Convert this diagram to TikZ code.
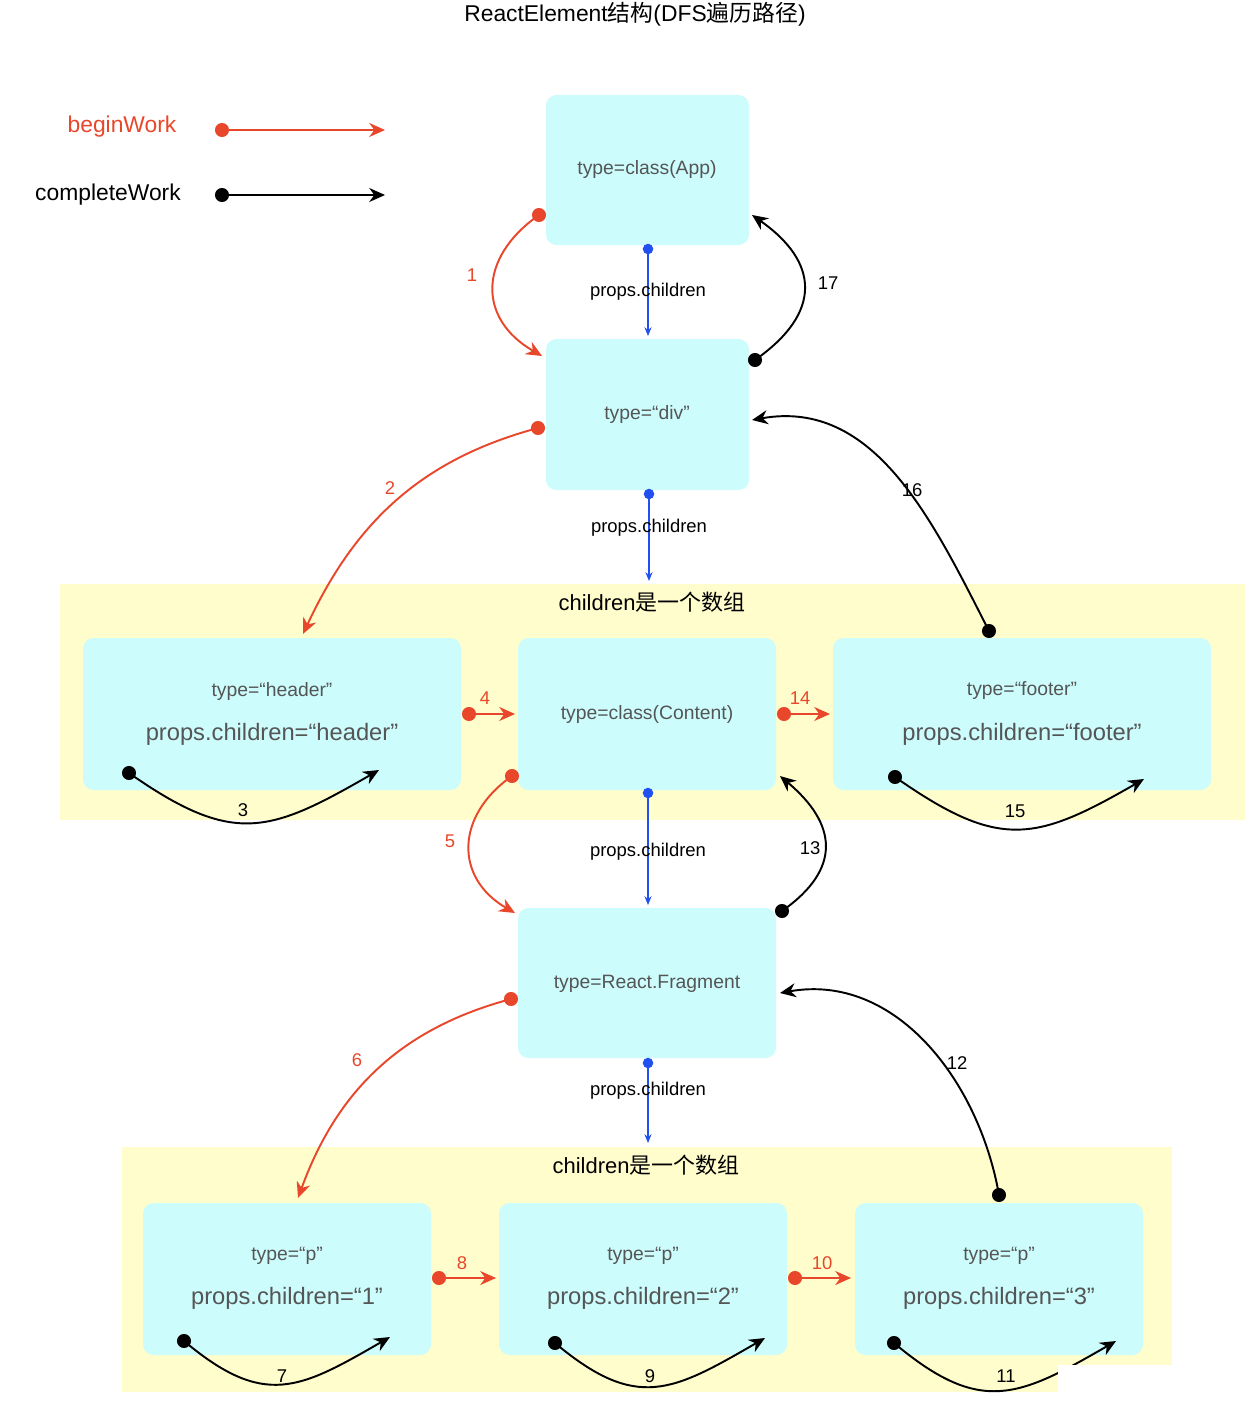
\documentclass[tikz,border=0pt]{standalone}
\usepackage{fontspec}
\setmainfont{Liberation Sans}
\newfontfamily\cjk{Noto Sans CJK SC}
\usetikzlibrary{arrows.meta}
\definecolor{rd}{HTML}{E8472B}
\definecolor{cy}{HTML}{CCFCFC}
\definecolor{yl}{HTML}{FFFDCC}
\definecolor{bl}{HTML}{2050F0}
\definecolor{tg}{HTML}{555555}
\begin{document}
\begin{tikzpicture}[x=0.02cm,y=-0.02cm,
 box/.style={fill=cy,rounded corners=6pt,draw=none},
 band/.style={fill=yl,draw=none},
 tl/.style={text=tg,font=\fontsize{11}{13}\selectfont},
 pl/.style={text=tg,font=\fontsize{13.5}{16}\selectfont},
 beg/.style={draw=rd,line width=1.1pt,-{Stealth[length=9pt,width=8pt]}},
 cmp/.style={draw=black,line width=1.1pt,-{Stealth[length=9pt,width=8pt]}},
 bdot/.style={circle,fill=rd,inner sep=0pt,minimum size=8pt},
 kdot/.style={circle,fill=black,inner sep=0pt,minimum size=8pt},
 lab/.style={font=\fontsize{10.5}{12}\selectfont},
 pc/.style={font=\fontsize{10.5}{12}\selectfont},
 ch/.style={draw=bl,line width=0.6pt,-{Stealth[length=5pt,width=4pt]}},
]
\useasboundingbox (0,0) rectangle (1250,1406);
\fill[white] (0,0) rectangle (1250,1406);
\node[font=\fontsize{13}{15}\selectfont] (title) at (635,14) {ReactElement{\cjk 结构}(DFS{\cjk 遍历路径})};
% legend
\node[text=rd,font=\fontsize{13}{15}\selectfont] (lb) at (122,127) {beginWork};
\node[font=\fontsize{13}{15}\selectfont] (lc) at (108,195) {completeWork};
\node[bdot] (lb1) at (222,130) {}; \coordinate (lb2) at (385,130);
\node[kdot] (lc1) at (222,195) {}; \coordinate (lc2) at (385,195);
\draw[beg] (lb1.center) -- (lb2);
\draw[cmp] (lc1.center) -- (lc2);
% bands
\fill[band] (60,584) rectangle (1245,820);
\fill[band] (122,1147) rectangle (1172,1392);
\node[font=\fontsize{12.5}{15}\selectfont] (b1) at (652,602) {children{\cjk 是一个数组}};
\node[font=\fontsize{12.5}{15}\selectfont] (b2) at (646,1165) {children{\cjk 是一个数组}};
% boxes
\fill[box] (546,95) rectangle (749,245);
\node[tl] (app) at (647,170) {type=class(App)};
\fill[box] (546,339) rectangle (749,490);
\node[tl] (div) at (647,414) {type=“div”};
\fill[box] (83,638) rectangle (461,790);
\node[tl] (h1) at (272,691) {type=“header”};
\node[pl] (h2) at (272,734) {props.children=“header”};
\fill[box] (518,638) rectangle (776,790);
\node[tl] (cont) at (647,714) {type=class(Content)};
\fill[box] (833,638) rectangle (1211,790);
\node[tl] (f1) at (1022,691) {type=“footer”};
\node[pl] (f2) at (1022,734) {props.children=“footer”};
\fill[box] (518,908) rectangle (776,1058);
\node[tl] (frag) at (647,984) {type=React.Fragment};
\fill[box] (143,1203) rectangle (431,1355);
\node[tl] (p1a) at (287,1256) {type=“p”};
\node[pl] (p1b) at (287,1298) {props.children=“1”};
\fill[box] (499,1203) rectangle (787,1355);
\node[tl] (p2a) at (643,1256) {type=“p”};
\node[pl] (p2b) at (643,1298) {props.children=“2”};
\fill[box] (855,1203) rectangle (1143,1355);
\node[tl] (p3a) at (999,1256) {type=“p”};
\node[pl] (p3b) at (999,1298) {props.children=“3”};
% props.children arrows
\foreach \n/\x/\ya/\yb/\yl in {c1/648/249/336/292, c2/649/494/581/528, c3/648/793/905/852, c4/648/1063/1143/1091}{
 \fill[bl] (\x,\ya) circle (3pt);
 \coordinate (\n a) at (\x,\ya); \coordinate (\n b) at (\x,\yb);
 \draw[ch] (\n a) -- (\n b);
 \node[pc] (\n l) at (\x,\yl) {props.children};
}
% begin arcs
\node[bdot] (r1) at (539,215) {}; \coordinate (r1e) at (542,356);
\draw[beg] (r1.center) to[out=215,in=150,looseness=1.35] (r1e);
\node[lab,text=rd] (l1) at (472,275) {1};
\node[bdot] (r2) at (538,428) {}; \coordinate (r2e) at (303,634);
\draw[beg] (r2.center) to[out=195,in=65] (r2e);
\node[lab,text=rd] (l2) at (390,488) {2};
\node[bdot] (r4) at (469,714) {}; \coordinate (r4e) at (515,714);
\draw[beg] (r4.center) -- (r4e);
\node[lab,text=rd] (l4) at (485,698) {4};
\node[bdot] (r14) at (784,714) {}; \coordinate (r14e) at (830,714);
\draw[beg] (r14.center) -- (r14e);
\node[lab,text=rd] (l14) at (800,698) {14};
\node[bdot] (r5) at (512,776) {}; \coordinate (r5e) at (515,913);
\draw[beg] (r5.center) to[out=215,in=150,looseness=1.3] (r5e);
\node[lab,text=rd] (l5) at (450,841) {5};
\node[bdot] (r6) at (511,999) {}; \coordinate (r6e) at (298,1198);
\draw[beg] (r6.center) to[out=195,in=70] (r6e);
\node[lab,text=rd] (l6) at (357,1060) {6};
\node[bdot] (r8) at (439,1278) {}; \coordinate (r8e) at (496,1278);
\draw[beg] (r8.center) -- (r8e);
\node[lab,text=rd] (l8) at (462,1263) {8};
\node[bdot] (r10) at (795,1278) {}; \coordinate (r10e) at (851,1278);
\draw[beg] (r10.center) -- (r10e);
\node[lab,text=rd] (l10) at (822,1263) {10};
% complete arcs
\node[kdot] (k17) at (755,360) {}; \coordinate (k17e) at (752,215);
\draw[cmp] (k17.center) to[out=35,in=-35,looseness=1.45] (k17e);
\node[lab] (l17) at (828,283) {17};
\node[kdot] (k16) at (989,631) {}; \coordinate (k16e) at (752,420);
\draw[cmp] (k16.center) to[out=117,in=10] (k16e);
\node[lab] (l16) at (912,490) {16};
\node[kdot] (k3) at (129,773) {}; \coordinate (k3e) at (379,770);
\draw[cmp] (k3.center) to[out=-35,in=-150,looseness=1.3] (k3e);
\node[lab] (l3) at (243,810) {3};
\node[kdot] (k15) at (895,777) {}; \coordinate (k15e) at (1144,779);
\draw[cmp] (k15.center) to[out=-35,in=-150,looseness=1.3] (k15e);
\node[lab] (l15) at (1015,811) {15};
\node[kdot] (k13) at (782,911) {}; \coordinate (k13e) at (780,776);
\draw[cmp] (k13.center) to[out=35,in=-40,looseness=1.4] (k13e);
\node[lab] (l13) at (810,848) {13};
\node[kdot] (k12) at (999,1195) {}; \coordinate (k12e) at (780,993);
\draw[cmp] (k12.center) to[out=100,in=10] (k12e);
\node[lab] (l12) at (957,1063) {12};
\node[kdot] (k7) at (184,1341) {}; \coordinate (k7e) at (390,1337);
\draw[cmp] (k7.center) to[out=-40,in=-150,looseness=1.3] (k7e);
\node[lab] (l7) at (282,1376) {7};
\node[kdot] (k9) at (555,1343) {}; \coordinate (k9e) at (765,1338);
\draw[cmp] (k9.center) to[out=-40,in=-150,looseness=1.3] (k9e);
\node[lab] (l9) at (650,1376) {9};
\node[kdot] (k11) at (894,1343) {}; \coordinate (k11e) at (1116,1341);
\draw[cmp] (k11.center) to[out=-40,in=-150,looseness=1.3] (k11e);
\node[lab] (l11) at (1006,1376) {11};
\fill[white] (1058,1365) rectangle (1175,1406);
\end{tikzpicture}
\end{document}
